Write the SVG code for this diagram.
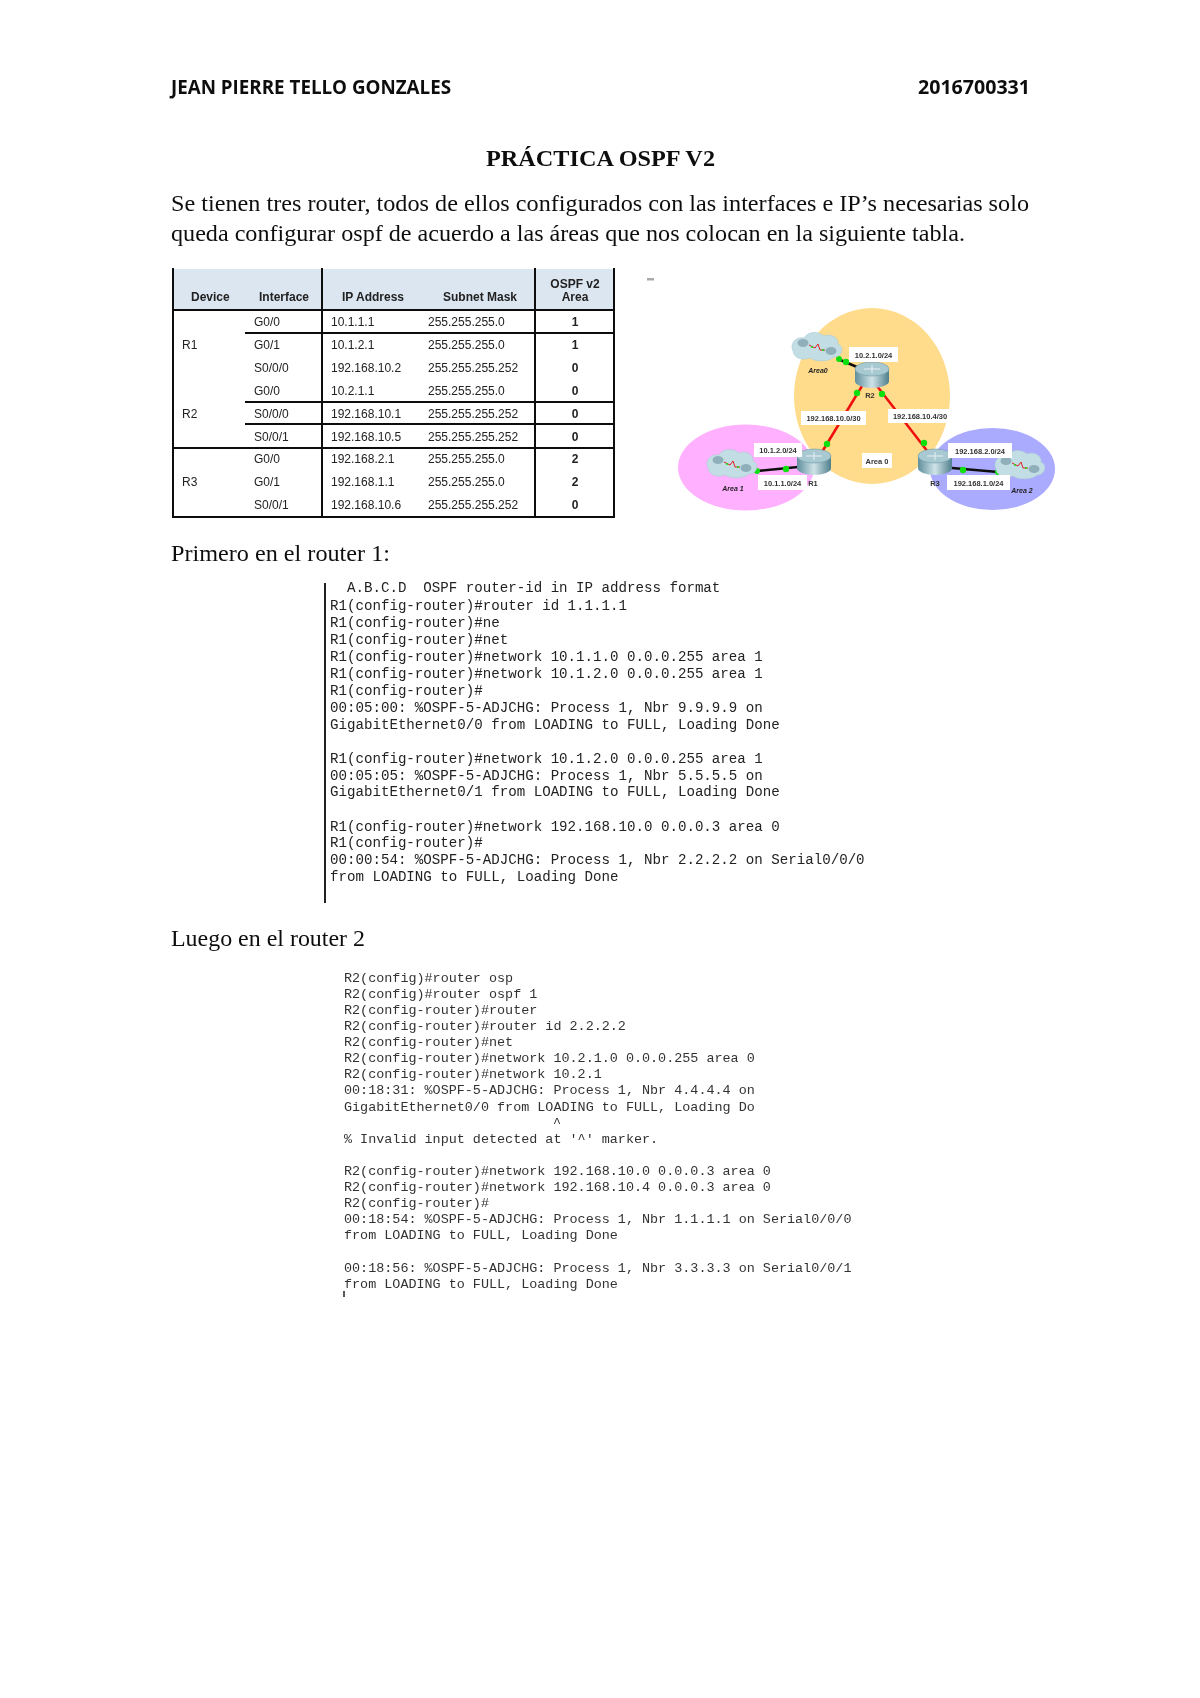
<svg xmlns="http://www.w3.org/2000/svg" width="1200" height="1698" viewBox="0 0 1200 1698">
<style>
text{white-space:pre}
.h{font:700 19px "Open Sans",sans-serif;fill:#111}
.b{font:400 24px "Liberation Serif",serif;fill:#111}
.t{font:700 24px "Liberation Serif",serif;fill:#111}
.th{font:700 12px "Liberation Sans",sans-serif;fill:#222}
.td{font:400 12px "Liberation Sans",sans-serif;fill:#222}
.c{text-anchor:middle}
.tl{stroke:#111;stroke-width:2;fill:none}
.m1{font:400 14.15px "Liberation Mono",monospace;fill:#222}
.m2{font:400 13.43px "Liberation Mono",monospace;fill:#333}
.lb{fill:#fff}
.nl{font:700 7.5px "Liberation Sans",sans-serif;fill:#333;text-anchor:middle}
.ar{font:italic 700 7px "Liberation Sans",sans-serif;fill:#222;text-anchor:middle}
.red{stroke:#f01010;stroke-width:2.5;fill:none}
.blk{stroke:#111;stroke-width:2.5;fill:none}
.dot{fill:#10e010}
</style>
<defs>
<filter id="soft" x="-5%" y="-5%" width="110%" height="110%"><feGaussianBlur stdDeviation="0.45"/></filter>
<filter id="softer" x="-5%" y="-5%" width="110%" height="110%"><feGaussianBlur stdDeviation="0.6"/></filter>
<linearGradient id="rg" x1="0" y1="0" x2="1" y2="0"><stop offset="0" stop-color="#5f8f9c"/><stop offset="0.5" stop-color="#cfe3e8"/><stop offset="1" stop-color="#4f7f8c"/></linearGradient>
<g id="router">
<path d="M-17 -6V6A17 7 0 0 0 17 6V-6Z" fill="url(#rg)"/>
<ellipse cx="0" cy="-6" rx="17" ry="7" fill="#a9c9d2" stroke="#6f9aa6" stroke-width="0.6"/>
<path d="M-8 -6H8M0 -10V-2" stroke="#e8f2f4" stroke-width="1"/>
</g>
<g id="cloud">
<path d="M-24 4C-28 -4 -20 -11 -13 -9C-9 -16 2 -16 7 -11C14 -14 22 -9 21 -3C28 0 25 10 17 10C12 15 -2 15 -7 11C-15 14 -23 11 -24 4Z" fill="#c3dde5" stroke="#aacbd5" stroke-width="0.6"/>
<ellipse cx="-14" cy="-4" rx="5.5" ry="4" fill="#8fb0ba"/>
<ellipse cx="14" cy="4" rx="5.5" ry="4" fill="#8fb0ba"/>
<path d="M-8 -2L-2 1L1 -3L3 3L8 3" stroke="#e02020" stroke-width="1" fill="none"/>
<circle cx="-5" cy="0" r="1" fill="#10e010"/><circle cx="6" cy="3" r="1" fill="#10e010"/>
</g>
</defs>
<rect width="1200" height="1698" fill="#fff"/>

<g id="page-text" filter="url(#soft)">
<text class="h" x="171" y="93.500" textLength="280" lengthAdjust="spacingAndGlyphs">JEAN PIERRE TELLO GONZALES</text>
<text class="h" x="918" y="93.500" textLength="112" lengthAdjust="spacingAndGlyphs">2016700331</text>
<text class="t" x="486" y="166" textLength="229" lengthAdjust="spacingAndGlyphs">PRÁCTICA OSPF V2</text>
<text class="b" x="171" y="211" textLength="858" lengthAdjust="spacingAndGlyphs">Se tienen tres router, todos de ellos configurados con las interfaces e IP’s necesarias solo</text>
<text class="b" x="171" y="241" textLength="794" lengthAdjust="spacingAndGlyphs">queda configurar ospf de acuerdo a las áreas que nos colocan en la siguiente tabla.</text>
<text class="b" x="171" y="561" textLength="219" lengthAdjust="spacingAndGlyphs">Primero en el router 1:</text>
<text class="b" x="171" y="945.500" textLength="194" lengthAdjust="spacingAndGlyphs">Luego en el router 2</text>
</g>

<g id="table" filter="url(#soft)">
<rect x="173" y="269" width="441" height="41" fill="#dce6f1"/>
<path class="tl" d="M173 268V517H614V268M322 268V517M535 268V517M173 310H614M245 333H614M245 402H614M245 424H614M173 448H614"/>
<text class="th" x="191" y="301">Device</text>
<text class="th" x="259" y="301">Interface</text>
<text class="th" x="342" y="301">IP Address</text>
<text class="th" x="443" y="301">Subnet Mask</text>
<text class="th c" x="575" y="288">OSPF v2</text>
<text class="th c" x="575" y="301">Area</text>
<text class="td" x="182" y="349">R1</text>
<text class="td" x="182" y="418">R2</text>
<text class="td" x="182" y="486">R3</text>
<g>
<text class="td" x="254" y="326">G0/0</text><text class="td" x="331" y="326">10.1.1.1</text><text class="td" x="428" y="326">255.255.255.0</text><text class="th c" x="575" y="326">1</text>
<text class="td" x="254" y="349">G0/1</text><text class="td" x="331" y="349">10.1.2.1</text><text class="td" x="428" y="349">255.255.255.0</text><text class="th c" x="575" y="349">1</text>
<text class="td" x="254" y="372">S0/0/0</text><text class="td" x="331" y="372">192.168.10.2</text><text class="td" x="428" y="372">255.255.255.252</text><text class="th c" x="575" y="372">0</text>
<text class="td" x="254" y="395">G0/0</text><text class="td" x="331" y="395">10.2.1.1</text><text class="td" x="428" y="395">255.255.255.0</text><text class="th c" x="575" y="395">0</text>
<text class="td" x="254" y="418">S0/0/0</text><text class="td" x="331" y="418">192.168.10.1</text><text class="td" x="428" y="418">255.255.255.252</text><text class="th c" x="575" y="418">0</text>
<text class="td" x="254" y="441">S0/0/1</text><text class="td" x="331" y="441">192.168.10.5</text><text class="td" x="428" y="441">255.255.255.252</text><text class="th c" x="575" y="441">0</text>
<text class="td" x="254" y="463">G0/0</text><text class="td" x="331" y="463">192.168.2.1</text><text class="td" x="428" y="463">255.255.255.0</text><text class="th c" x="575" y="463">2</text>
<text class="td" x="254" y="486">G0/1</text><text class="td" x="331" y="486">192.168.1.1</text><text class="td" x="428" y="486">255.255.255.0</text><text class="th c" x="575" y="486">2</text>
<text class="td" x="254" y="509">S0/0/1</text><text class="td" x="331" y="509">192.168.10.6</text><text class="td" x="428" y="509">255.255.255.252</text><text class="th c" x="575" y="509">0</text>
</g>
</g>

<g id="topology" filter="url(#softer)">
<rect x="647" y="278" width="7" height="2.5" fill="#aaa"/>
<g id="areas">
<ellipse id="area1" cx="746" cy="467.5" rx="68" ry="43" fill="#ffb0ff"/>
<ellipse id="area2" cx="992.500" cy="469" rx="62.500" ry="41" fill="#aaaaff"/>
<ellipse id="area0" cx="872" cy="396" rx="78" ry="88" fill="#ffdc8c"/>
</g>
<g id="connectors">
<path class="red" d="M862 386L822 452"/>
<path class="red" d="M877 386L928 452"/>
<path class="blk" d="M838 359L857 367"/>
<path class="blk" d="M757 471L798 467"/>
<path class="blk" d="M952 468L998 472"/>
<circle class="dot" cx="857" cy="393" r="3.2"/><circle class="dot" cx="827" cy="444" r="3.2"/>
<circle class="dot" cx="882" cy="394" r="3.2"/><circle class="dot" cx="924" cy="443" r="3.2"/>
<circle class="dot" cx="839" cy="359" r="3"/><circle class="dot" cx="846" cy="362" r="3.2"/>
<circle class="dot" cx="757" cy="471" r="3"/><circle class="dot" cx="786" cy="469" r="3.2"/>
<circle class="dot" cx="963" cy="470" r="3.2"/><circle class="dot" cx="998" cy="472" r="3"/>
</g>
<g id="R2"><use href="#router" x="872" y="375"/><text class="nl" x="870" y="398">R2</text></g>
<g id="R1"><use href="#router" x="814" y="462"/><text class="nl" x="813" y="486">R1</text></g>
<g id="R3"><use href="#router" x="935" y="462"/><text class="nl" x="935" y="486">R3</text></g>
<g id="Area0-cloud"><use href="#cloud" x="817" y="347"/><text class="ar" x="818" y="373">Area0</text></g>
<g id="Area1-cloud"><use href="#cloud" x="732" y="464"/><text class="ar" x="733" y="491">Area 1</text></g>
<g id="Area2-cloud"><use href="#cloud" x="1020" y="465"/><text class="ar" x="1022" y="493">Area 2</text></g>
<g id="label-net0"><rect class="lb" x="849" y="347" width="49" height="15"/><text class="nl" x="873.5" y="357.5">10.2.1.0/24</text></g>
<g id="label-link1"><rect class="lb" x="801" y="411" width="65" height="14"/><text class="nl" x="833.5" y="421">192.168.10.0/30</text></g>
<g id="label-link2"><rect class="lb" x="888" y="409" width="64" height="14"/><text class="nl" x="920" y="419">192.168.10.4/30</text></g>
<g id="label-net1b"><rect class="lb" x="754" y="443" width="48" height="14"/><text class="nl" x="778" y="453">10.1.2.0/24</text></g>
<g id="label-net1a"><rect class="lb" x="758" y="475" width="49" height="15"/><text class="nl" x="782.5" y="486">10.1.1.0/24</text></g>
<g id="label-area0"><rect class="lb" x="862" y="453" width="30" height="15"/><text class="nl" x="877" y="464">Area 0</text></g>
<g id="label-net2b"><rect class="lb" x="948" y="443" width="64" height="15"/><text class="nl" x="980" y="454">192.168.2.0/24</text></g>
<g id="label-net2a"><rect class="lb" x="947" y="475" width="63" height="15"/><text class="nl" x="978.5" y="486">192.168.1.0/24</text></g>
</g>

<g id="terminal-1" filter="url(#soft)">
<path d="M325 583V903" stroke="#222" stroke-width="2"/>
<text class="m1" x="330" y="592">  A.B.C.D  OSPF router-id in IP address format</text>
<text class="m1" x="330" y="610">R1(config-router)#router id 1.1.1.1</text>
<text class="m1" x="330" y="627">R1(config-router)#ne</text>
<text class="m1" x="330" y="644">R1(config-router)#net</text>
<text class="m1" x="330" y="661">R1(config-router)#network 10.1.1.0 0.0.0.255 area 1</text>
<text class="m1" x="330" y="678">R1(config-router)#network 10.1.2.0 0.0.0.255 area 1</text>
<text class="m1" x="330" y="695">R1(config-router)#</text>
<text class="m1" x="330" y="712">00:05:00: %OSPF-5-ADJCHG: Process 1, Nbr 9.9.9.9 on</text>
<text class="m1" x="330" y="729">GigabitEthernet0/0 from LOADING to FULL, Loading Done</text>
<text class="m1" x="330" y="763">R1(config-router)#network 10.1.2.0 0.0.0.255 area 1</text>
<text class="m1" x="330" y="780">00:05:05: %OSPF-5-ADJCHG: Process 1, Nbr 5.5.5.5 on</text>
<text class="m1" x="330" y="796">GigabitEthernet0/1 from LOADING to FULL, Loading Done</text>
<text class="m1" x="330" y="831">R1(config-router)#network 192.168.10.0 0.0.0.3 area 0</text>
<text class="m1" x="330" y="847">R1(config-router)#</text>
<text class="m1" x="330" y="864">00:00:54: %OSPF-5-ADJCHG: Process 1, Nbr 2.2.2.2 on Serial0/0/0</text>
<text class="m1" x="330" y="881">from LOADING to FULL, Loading Done</text>
</g>

<g id="terminal-2" filter="url(#softer)">
<text class="m2" x="344" y="981.500">R2(config)#router osp</text>
<text class="m2" x="344" y="997.500">R2(config)#router ospf 1</text>
<text class="m2" x="344" y="1013.500">R2(config-router)#router</text>
<text class="m2" x="344" y="1029.500">R2(config-router)#router id 2.2.2.2</text>
<text class="m2" x="344" y="1045.500">R2(config-router)#net</text>
<text class="m2" x="344" y="1061.500">R2(config-router)#network 10.2.1.0 0.0.0.255 area 0</text>
<text class="m2" x="344" y="1077.500">R2(config-router)#network 10.2.1</text>
<text class="m2" x="344" y="1093.500">00:18:31: %OSPF-5-ADJCHG: Process 1, Nbr 4.4.4.4 on</text>
<text class="m2" x="344" y="1110.500">GigabitEthernet0/0 from LOADING to FULL, Loading Do</text>
<text class="m2" x="553" y="1126.500">^</text>
<text class="m2" x="344" y="1142.500">% Invalid input detected at '^' marker.</text>
<text class="m2" x="344" y="1174.500">R2(config-router)#network 192.168.10.0 0.0.0.3 area 0</text>
<text class="m2" x="344" y="1190.500">R2(config-router)#network 192.168.10.4 0.0.0.3 area 0</text>
<text class="m2" x="344" y="1206.500">R2(config-router)#</text>
<text class="m2" x="344" y="1222.500">00:18:54: %OSPF-5-ADJCHG: Process 1, Nbr 1.1.1.1 on Serial0/0/0</text>
<text class="m2" x="344" y="1238.500">from LOADING to FULL, Loading Done</text>
<text class="m2" x="344" y="1271.500">00:18:56: %OSPF-5-ADJCHG: Process 1, Nbr 3.3.3.3 on Serial0/0/1</text>
<text class="m2" x="344" y="1287.500">from LOADING to FULL, Loading Done</text>
<path d="M344 1291V1297" stroke="#222" stroke-width="1.500"/>
</g>
</svg>
